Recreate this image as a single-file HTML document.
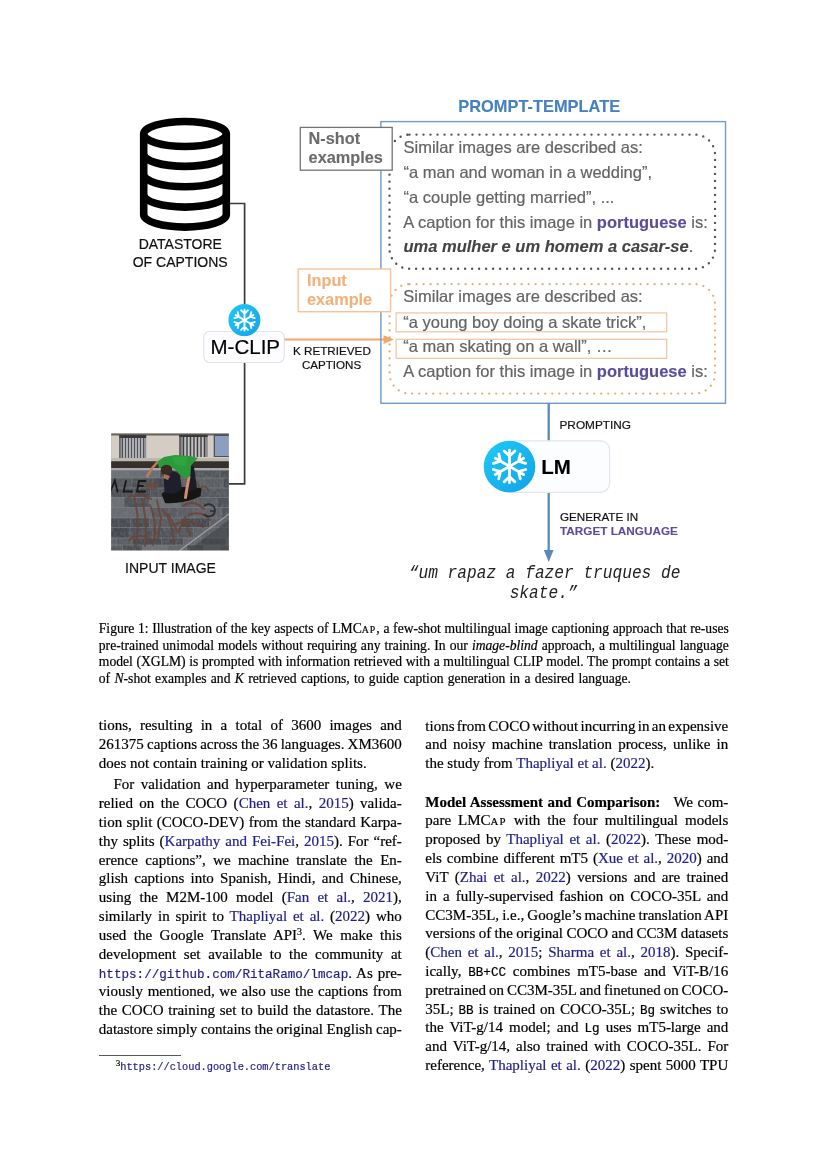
<!DOCTYPE html>
<html><head><meta charset="utf-8">
<style>
html,body{margin:0;padding:0;background:#fff;}
body{width:827px;height:1169px;position:relative;overflow:hidden;will-change:transform;}
.ln,.cap,.fn{-webkit-text-stroke:0.2px currentColor;}
.fig{position:absolute;left:0;top:0;font-family:"Liberation Sans",sans-serif;}
.ln{position:absolute;font-family:"Liberation Serif",serif;font-size:15.0px;line-height:18.9px;height:18.9px;white-space:nowrap;color:#000;}
.cap{position:absolute;font-family:"Liberation Serif",serif;font-size:13.62px;line-height:16.52px;height:16.52px;white-space:nowrap;color:#000;}
a{color:#1f1f8a;text-decoration:none;}
.url{font-family:"Liberation Mono",monospace;font-size:12.6px;color:#1f1f8a;}
.tt{font-family:"Liberation Mono",monospace;font-size:12.6px;}
.sc{font-size:0.72em;letter-spacing:0.105em;text-transform:uppercase;}
sup{font-size:10px;line-height:0;vertical-align:5px;}
.fn{position:absolute;left:116px;top:1059px;font-family:"Liberation Serif",serif;font-size:12.5px;white-space:nowrap;}
.fn .u{font-family:"Liberation Mono",monospace;font-size:10.3px;color:#1f1f8a;}
.rule{position:absolute;left:98.5px;top:1055.2px;width:82.5px;height:1px;background:#555;}
</style></head><body>

<svg class="fig" width="827" height="620" viewBox="0 0 827 620">
<defs>
<linearGradient id="cyan" x1="0" y1="0" x2="1" y2="1">
<stop offset="0" stop-color="#1fcaf5"/><stop offset="1" stop-color="#12a2e8"/>
</linearGradient>
</defs>
<!-- connector lines -->
<path d="M229.5 203.5H244.6V304" stroke="#3a3a3a" stroke-width="1.7" fill="none"/>
<path d="M244.6 362V483.8H229" stroke="#3a3a3a" stroke-width="1.7" fill="none"/>
<!-- database -->
<g stroke="#000" stroke-width="7.6" fill="none">
<ellipse cx="185" cy="134" rx="41.3" ry="12.5"/>
<path d="M143.7 134V214.6A41.3 12.5 0 0 0 226.3 214.6V134"/>
<path d="M143.7 153.9A41.3 12.5 0 0 0 226.3 153.9"/>
<path d="M143.7 174.2A41.3 12.5 0 0 0 226.3 174.2"/>
<path d="M143.7 194.6A41.3 12.5 0 0 0 226.3 194.6"/>
</g>
<text x="180.3" y="249" font-size="14" text-anchor="middle" fill="#111" stroke="#111" stroke-width="0.2">DATASTORE</text>
<text x="180.2" y="267.2" font-size="14" text-anchor="middle" fill="#111" stroke="#111" stroke-width="0.2">OF CAPTIONS</text>
<!-- M-CLIP -->
<rect x="203.8" y="331.5" width="80.5" height="31" rx="6" fill="#fdfdff" stroke="#dfe5ee" stroke-width="1.2"/>
<circle cx="244.4" cy="320.1" r="16" fill="url(#cyan)"/>
<path d="M244.50 320.10L244.50 309.80M241.10 310.31L244.50 313.51L247.90 310.31M244.50 320.10L253.42 314.95M251.27 312.26L250.21 316.80L254.67 318.15M244.50 320.10L253.42 325.25M254.67 322.05L250.21 323.40L251.27 327.94M244.50 320.10L244.50 330.40M247.90 329.89L244.50 326.69L241.10 329.89M244.50 320.10L235.58 325.25M237.73 327.94L238.79 323.40L234.33 322.05M244.50 320.10L235.58 314.95M234.33 318.15L238.79 316.80L237.73 312.26" stroke="#fff" stroke-width="1.9" stroke-linecap="round" stroke-linejoin="round" fill="none"/>
<text x="245.3" y="354.3" font-size="20.5" text-anchor="middle" fill="#000" stroke="#000" stroke-width="0.2">M-CLIP</text>
<!-- orange arrow -->
<path d="M284.5 339.6H386" stroke="#f0a868" stroke-width="2" fill="none"/>
<path d="M383.5 335.3L394 339.6L383.5 343.9Z" fill="#f0a868"/>
<text x="331.9" y="355.2" font-size="11.7" text-anchor="middle" fill="#111" stroke="#111" stroke-width="0.2">K RETRIEVED</text>
<text x="331.6" y="368.8" font-size="11.6" text-anchor="middle" fill="#111" stroke="#111" stroke-width="0.2">CAPTIONS</text>
<!-- prompt template box -->
<text x="539.2" y="112.2" font-size="16.4" font-weight="bold" text-anchor="middle" fill="#4580c0" stroke="#4580c0" stroke-width="0.12">PROMPT-TEMPLATE</text>
<rect x="380.9" y="121.6" width="344.6" height="281.7" fill="none" stroke="#6f9acb" stroke-width="1.4"/>
<rect x="389.5" y="134.6" width="325.5" height="134.20000000000002" rx="20" ry="20" fill="none" stroke="#555" stroke-width="2.4" stroke-linecap="round" stroke-dasharray="0 7.0"/>
<rect x="389.6" y="284.2" width="325.4" height="109.40000000000003" rx="20" ry="20" fill="none" stroke="#e6ad6e" stroke-width="2.3" stroke-linecap="round" stroke-dasharray="0 7.0"/>
<!-- N-shot box -->
<rect x="300.3" y="127.4" width="91.9" height="42.8" fill="#fff" stroke="#747474" stroke-width="1.3"/>
<text x="308.6" y="143.8" font-size="16.3" font-weight="bold" fill="#6b6b6b" stroke="#6b6b6b" stroke-width="0.12">N-shot</text>
<text x="308.6" y="162.7" font-size="16.3" font-weight="bold" fill="#6b6b6b" stroke="#6b6b6b" stroke-width="0.12">examples</text>
<!-- Input example box -->
<rect x="298.2" y="269" width="92.4" height="42.7" fill="#fff" stroke="#f3c49a" stroke-width="1.4"/>
<text x="307" y="285.6" font-size="16.3" font-weight="bold" fill="#f0b27a" stroke="#f0b27a" stroke-width="0.12">Input</text>
<text x="307" y="305.2" font-size="16.3" font-weight="bold" fill="#f0b27a" stroke="#f0b27a" stroke-width="0.12">example</text>
<!-- prompt text -->
<g font-size="16.5" fill="#646464" stroke="#646464" stroke-width="0.2">
<text x="403.5" y="152.8">Similar images are described as:</text>
<text x="403.5" y="178.0">“a man and woman in a wedding”,</text>
<text x="403.5" y="202.8">“a couple getting married”, ...</text>
<text x="403.3" y="227.5">A caption for this image in <tspan font-weight="bold" fill="#5b4c9c" stroke="#5b4c9c" stroke-width="0.12">portuguese</tspan> is:</text>
<text x="403.5" y="252.3" font-weight="bold" font-style="italic" fill="#444444" stroke="#444444" stroke-width="0.12">uma mulher e um homem a casar-se<tspan font-weight="normal" font-style="normal">.</tspan></text>
<text x="403.3" y="302.0">Similar images are described as:</text>
<text x="403.3" y="327.8">“a young boy doing a skate trick”,</text>
<text x="403.3" y="352.3">“a man skating on a wall”, …</text>
<text x="403.3" y="376.9">A caption for this image in <tspan font-weight="bold" fill="#5b4c9c" stroke="#5b4c9c" stroke-width="0.12">portuguese</tspan> is:</text>
</g>
<rect x="396.1" y="312.9" width="270.6" height="18.9" fill="none" stroke="#f2c49c" stroke-width="1.2"/>
<rect x="396.1" y="339.3" width="270.6" height="19.0" fill="none" stroke="#f2c49c" stroke-width="1.2"/>
<!-- blue line and LM -->
<path d="M548.7 403.3V553" stroke="#5a88ba" stroke-width="2.3" fill="none"/>
<path d="M543.8 550L548.7 562L553.6 550Z" fill="#5a88ba"/>
<text x="559.5" y="429" font-size="11.8" fill="#111" stroke="#111" stroke-width="0.2">PROMPTING</text>
<rect x="505" y="440.8" width="104.6" height="51.6" rx="9" fill="#fcfdff" stroke="#e0e6ee" stroke-width="1.2"/>
<circle cx="509.5" cy="466.6" r="25.8" fill="url(#cyan)"/>
<path d="M509.50 466.40L509.50 450.10M504.12 450.91L509.50 455.97L514.88 450.91M509.50 466.40L523.62 458.25M520.22 454.00L518.53 461.18L525.60 463.32M509.50 466.40L523.62 474.55M525.60 469.48L518.53 471.62L520.22 478.80M509.50 466.40L509.50 482.70M514.88 481.88L509.50 476.83L504.12 481.88M509.50 466.40L495.38 474.55M498.78 478.80L500.47 471.62L493.40 469.48M509.50 466.40L495.38 458.25M493.40 463.32L500.47 461.18L498.78 454.00" stroke="#fff" stroke-width="2.8" stroke-linecap="round" stroke-linejoin="round" fill="none"/>
<text x="541.3" y="473.8" font-size="20.5" font-weight="bold" fill="#000" stroke="#000" stroke-width="0.12">LM</text>
<text x="560" y="521.1" font-size="11.65" fill="#111" stroke="#111" stroke-width="0.2">GENERATE IN</text>
<text x="560" y="535.2" font-size="11.75" font-weight="bold" fill="#5b4c9c" stroke="#5b4c9c" stroke-width="0.12">TARGET LANGUAGE</text>
<!-- generated caption -->
<text transform="translate(544.6 578.2) scale(1.011 1.1)" font-family="Liberation Mono" font-style="italic" font-size="16" text-anchor="middle" fill="#222222">“um rapaz a fazer truques de</text>
<text transform="translate(543.6 597.6) scale(1.011 1.1)" font-family="Liberation Mono" font-style="italic" font-size="16" text-anchor="middle" fill="#222222">skate.”</text>
<!-- input image -->
<clipPath id="imgclip"><rect x="111.1" y="433.3" width="117.8" height="117.3"/></clipPath>
<filter id="stone" x="0" y="0" width="1" height="1" color-interpolation-filters="sRGB">
<feTurbulence type="fractalNoise" baseFrequency="0.5 0.25" numOctaves="2" seed="3" result="n"/>
<feColorMatrix in="n" type="matrix" values="0 0 0 0 0.5  0 0 0 0 0.52  0 0 0 0 0.56  0.9 0 0 0 -0.35"/>
</filter>
<filter id="blur05" color-interpolation-filters="sRGB"><feGaussianBlur stdDeviation="0.55"/></filter>
<g clip-path="url(#imgclip)">
<g filter="url(#blur05)">
<rect x="111.1" y="433.3" width="117.8" height="117.3" fill="#62656b"/>
<rect x="101.8" y="470.2" width="27.4" height="7.8" fill="#7a7d82"/>
<path d="M101.8 470.2V478.0" stroke="#8d9094" stroke-width="0.8" opacity="0.6"/>
<rect x="129.1" y="470.2" width="31.0" height="7.8" fill="#777a7f"/>
<path d="M129.1 470.2V478.0" stroke="#8d9094" stroke-width="0.8" opacity="0.6"/>
<rect x="160.1" y="470.2" width="30.6" height="7.8" fill="#4f5257"/>
<path d="M160.1 470.2V478.0" stroke="#8d9094" stroke-width="0.8" opacity="0.6"/>
<rect x="190.7" y="470.2" width="29.1" height="7.8" fill="#5d6065"/>
<path d="M190.7 470.2V478.0" stroke="#8d9094" stroke-width="0.8" opacity="0.6"/>
<rect x="219.8" y="470.2" width="25.7" height="7.8" fill="#585b60"/>
<path d="M219.8 470.2V478.0" stroke="#8d9094" stroke-width="0.8" opacity="0.6"/>
<path d="M111 470.2H229" stroke="#94979b" stroke-width="0.9" opacity="0.6"/>
<rect x="109.4" y="478.0" width="22.4" height="10.0" fill="#5d6065"/>
<path d="M109.4 478.0V488.0" stroke="#8d9094" stroke-width="0.8" opacity="0.6"/>
<rect x="131.8" y="478.0" width="20.9" height="10.0" fill="#54575c"/>
<path d="M131.8 478.0V488.0" stroke="#8d9094" stroke-width="0.8" opacity="0.6"/>
<rect x="152.7" y="478.0" width="24.3" height="10.0" fill="#4e5156"/>
<path d="M152.7 478.0V488.0" stroke="#8d9094" stroke-width="0.8" opacity="0.6"/>
<rect x="177.0" y="478.0" width="27.2" height="10.0" fill="#686b70"/>
<path d="M177.0 478.0V488.0" stroke="#8d9094" stroke-width="0.8" opacity="0.6"/>
<rect x="204.2" y="478.0" width="19.0" height="10.0" fill="#66696e"/>
<path d="M204.2 478.0V488.0" stroke="#8d9094" stroke-width="0.8" opacity="0.6"/>
<rect x="223.2" y="478.0" width="16.9" height="10.0" fill="#52555a"/>
<path d="M223.2 478.0V488.0" stroke="#8d9094" stroke-width="0.8" opacity="0.6"/>
<path d="M111 478.0H229" stroke="#94979b" stroke-width="0.9" opacity="0.6"/>
<rect x="109.0" y="488.0" width="25.1" height="9.5" fill="#56595e"/>
<path d="M109.0 488.0V497.5" stroke="#8d9094" stroke-width="0.8" opacity="0.6"/>
<rect x="134.1" y="488.0" width="16.4" height="9.5" fill="#4e5156"/>
<path d="M134.1 488.0V497.5" stroke="#8d9094" stroke-width="0.8" opacity="0.6"/>
<rect x="150.5" y="488.0" width="17.8" height="9.5" fill="#5b5e63"/>
<path d="M150.5 488.0V497.5" stroke="#8d9094" stroke-width="0.8" opacity="0.6"/>
<rect x="168.3" y="488.0" width="31.3" height="9.5" fill="#585b60"/>
<path d="M168.3 488.0V497.5" stroke="#8d9094" stroke-width="0.8" opacity="0.6"/>
<rect x="199.6" y="488.0" width="29.7" height="9.5" fill="#606368"/>
<path d="M199.6 488.0V497.5" stroke="#8d9094" stroke-width="0.8" opacity="0.6"/>
<path d="M111 488.0H229" stroke="#94979b" stroke-width="0.9" opacity="0.6"/>
<rect x="106.4" y="497.5" width="17.6" height="10.0" fill="#797c81"/>
<path d="M106.4 497.5V507.5" stroke="#8d9094" stroke-width="0.8" opacity="0.6"/>
<rect x="124.0" y="497.5" width="25.3" height="10.0" fill="#595c61"/>
<path d="M124.0 497.5V507.5" stroke="#8d9094" stroke-width="0.8" opacity="0.6"/>
<rect x="149.2" y="497.5" width="30.9" height="10.0" fill="#7a7d82"/>
<path d="M149.2 497.5V507.5" stroke="#8d9094" stroke-width="0.8" opacity="0.6"/>
<rect x="180.2" y="497.5" width="17.5" height="10.0" fill="#66696e"/>
<path d="M180.2 497.5V507.5" stroke="#8d9094" stroke-width="0.8" opacity="0.6"/>
<rect x="197.7" y="497.5" width="19.4" height="10.0" fill="#65686d"/>
<path d="M197.7 497.5V507.5" stroke="#8d9094" stroke-width="0.8" opacity="0.6"/>
<rect x="217.1" y="497.5" width="21.5" height="10.0" fill="#575a5f"/>
<path d="M217.1 497.5V507.5" stroke="#8d9094" stroke-width="0.8" opacity="0.6"/>
<path d="M111 497.5H229" stroke="#94979b" stroke-width="0.9" opacity="0.6"/>
<rect x="107.1" y="507.5" width="20.0" height="10.5" fill="#74777c"/>
<path d="M107.1 507.5V518.0" stroke="#8d9094" stroke-width="0.8" opacity="0.6"/>
<rect x="127.1" y="507.5" width="24.6" height="10.5" fill="#74777c"/>
<path d="M127.1 507.5V518.0" stroke="#8d9094" stroke-width="0.8" opacity="0.6"/>
<rect x="151.7" y="507.5" width="26.2" height="10.5" fill="#63666b"/>
<path d="M151.7 507.5V518.0" stroke="#8d9094" stroke-width="0.8" opacity="0.6"/>
<rect x="177.9" y="507.5" width="15.2" height="10.5" fill="#64676c"/>
<path d="M177.9 507.5V518.0" stroke="#8d9094" stroke-width="0.8" opacity="0.6"/>
<rect x="193.1" y="507.5" width="28.7" height="10.5" fill="#6c6f74"/>
<path d="M193.1 507.5V518.0" stroke="#8d9094" stroke-width="0.8" opacity="0.6"/>
<rect x="221.8" y="507.5" width="26.5" height="10.5" fill="#595c61"/>
<path d="M221.8 507.5V518.0" stroke="#8d9094" stroke-width="0.8" opacity="0.6"/>
<path d="M111 507.5H229" stroke="#94979b" stroke-width="0.9" opacity="0.6"/>
<rect x="103.9" y="518.0" width="26.7" height="9.5" fill="#515459"/>
<path d="M103.9 518.0V527.5" stroke="#8d9094" stroke-width="0.8" opacity="0.6"/>
<rect x="130.6" y="518.0" width="18.6" height="9.5" fill="#4f5257"/>
<path d="M130.6 518.0V527.5" stroke="#8d9094" stroke-width="0.8" opacity="0.6"/>
<rect x="149.2" y="518.0" width="31.1" height="9.5" fill="#64676c"/>
<path d="M149.2 518.0V527.5" stroke="#8d9094" stroke-width="0.8" opacity="0.6"/>
<rect x="180.3" y="518.0" width="29.2" height="9.5" fill="#4f5257"/>
<path d="M180.3 518.0V527.5" stroke="#8d9094" stroke-width="0.8" opacity="0.6"/>
<rect x="209.5" y="518.0" width="23.9" height="9.5" fill="#686b70"/>
<path d="M209.5 518.0V527.5" stroke="#8d9094" stroke-width="0.8" opacity="0.6"/>
<path d="M111 518.0H229" stroke="#94979b" stroke-width="0.9" opacity="0.6"/>
<rect x="105.6" y="527.5" width="24.4" height="10.5" fill="#4e5156"/>
<path d="M105.6 527.5V538.0" stroke="#8d9094" stroke-width="0.8" opacity="0.6"/>
<rect x="130.0" y="527.5" width="22.2" height="10.5" fill="#595c61"/>
<path d="M130.0 527.5V538.0" stroke="#8d9094" stroke-width="0.8" opacity="0.6"/>
<rect x="152.2" y="527.5" width="25.2" height="10.5" fill="#5a5d62"/>
<path d="M152.2 527.5V538.0" stroke="#8d9094" stroke-width="0.8" opacity="0.6"/>
<rect x="177.4" y="527.5" width="16.1" height="10.5" fill="#5d6065"/>
<path d="M177.4 527.5V538.0" stroke="#8d9094" stroke-width="0.8" opacity="0.6"/>
<rect x="193.5" y="527.5" width="30.7" height="10.5" fill="#6b6e73"/>
<path d="M193.5 527.5V538.0" stroke="#8d9094" stroke-width="0.8" opacity="0.6"/>
<rect x="224.3" y="527.5" width="20.2" height="10.5" fill="#64676c"/>
<path d="M224.3 527.5V538.0" stroke="#8d9094" stroke-width="0.8" opacity="0.6"/>
<path d="M111 527.5H229" stroke="#94979b" stroke-width="0.9" opacity="0.6"/>
<rect x="97.7" y="538.0" width="18.5" height="7.0" fill="#6b6e73"/>
<path d="M97.7 538.0V545.0" stroke="#8d9094" stroke-width="0.8" opacity="0.6"/>
<rect x="116.2" y="538.0" width="15.9" height="7.0" fill="#65686d"/>
<path d="M116.2 538.0V545.0" stroke="#8d9094" stroke-width="0.8" opacity="0.6"/>
<rect x="132.2" y="538.0" width="29.5" height="7.0" fill="#505358"/>
<path d="M132.2 538.0V545.0" stroke="#8d9094" stroke-width="0.8" opacity="0.6"/>
<rect x="161.6" y="538.0" width="21.8" height="7.0" fill="#53565b"/>
<path d="M161.6 538.0V545.0" stroke="#8d9094" stroke-width="0.8" opacity="0.6"/>
<rect x="183.4" y="538.0" width="17.8" height="7.0" fill="#6e7176"/>
<path d="M183.4 538.0V545.0" stroke="#8d9094" stroke-width="0.8" opacity="0.6"/>
<rect x="201.2" y="538.0" width="25.0" height="7.0" fill="#575a5f"/>
<path d="M201.2 538.0V545.0" stroke="#8d9094" stroke-width="0.8" opacity="0.6"/>
<rect x="226.2" y="538.0" width="20.1" height="7.0" fill="#7a7d82"/>
<path d="M226.2 538.0V545.0" stroke="#8d9094" stroke-width="0.8" opacity="0.6"/>
<path d="M111 538.0H229" stroke="#94979b" stroke-width="0.9" opacity="0.6"/>
<rect x="102.9" y="545.0" width="19.6" height="6.0" fill="#62656a"/>
<path d="M102.9 545.0V551.0" stroke="#8d9094" stroke-width="0.8" opacity="0.6"/>
<rect x="122.5" y="545.0" width="19.5" height="6.0" fill="#53565b"/>
<path d="M122.5 545.0V551.0" stroke="#8d9094" stroke-width="0.8" opacity="0.6"/>
<rect x="142.1" y="545.0" width="25.3" height="6.0" fill="#7a7d82"/>
<path d="M142.1 545.0V551.0" stroke="#8d9094" stroke-width="0.8" opacity="0.6"/>
<rect x="167.3" y="545.0" width="19.6" height="6.0" fill="#6c6f74"/>
<path d="M167.3 545.0V551.0" stroke="#8d9094" stroke-width="0.8" opacity="0.6"/>
<rect x="186.9" y="545.0" width="16.9" height="6.0" fill="#515459"/>
<path d="M186.9 545.0V551.0" stroke="#8d9094" stroke-width="0.8" opacity="0.6"/>
<rect x="203.8" y="545.0" width="15.5" height="6.0" fill="#74777c"/>
<path d="M203.8 545.0V551.0" stroke="#8d9094" stroke-width="0.8" opacity="0.6"/>
<rect x="219.3" y="545.0" width="23.6" height="6.0" fill="#676a6f"/>
<path d="M219.3 545.0V551.0" stroke="#8d9094" stroke-width="0.8" opacity="0.6"/>
<path d="M111 545.0H229" stroke="#94979b" stroke-width="0.9" opacity="0.6"/>
<rect x="111.1" y="469" width="117.8" height="82" fill="#000" opacity="0.1"/>
<rect x="111.1" y="469" width="117.8" height="82" fill="#000" filter="url(#stone)" opacity="1"/>
<path d="M229 514L179 551" stroke="#a6a6a8" stroke-width="1.5" opacity="0.85"/>
<path d="M229 520L187 551H229Z" fill="#3c3f44" opacity="0.55"/>
<!-- building -->
<rect x="111.1" y="433.3" width="117.8" height="25" fill="#d3cdc3"/>
<rect x="111.1" y="433.3" width="117.8" height="2.2" fill="#6a625a"/>
<rect x="119.2" y="435" width="27" height="23.5" fill="#8e9096"/>
<rect x="119.2" y="435" width="27" height="3" fill="#3a3838"/>
<path d="M119.8 435V458.5M122.5 438V458M125.5 438V458M128.5 438V458M131.5 438V458M134.5 438V458M137.5 438V458M140.5 438V458M143.5 438V458" stroke="#4a4a50" stroke-width="0.9"/>
<path d="M124 438V458M127 438V458M130 438V458M133 438V458M136 438V458M139 438V458M142 438V458" stroke="#c4c6cc" stroke-width="1.2"/>
<rect x="179.2" y="434.5" width="28.5" height="22.5" fill="#8a8a8c"/>
<rect x="179.2" y="434.5" width="28.5" height="2.5" fill="#3a3838"/>
<path d="M180 435V457M183.5 437V457M187 437V457M190.5 437V457M194 437V457M197.5 437V457M201 437V457M204.5 437V457" stroke="#3e3e40" stroke-width="1"/>
<path d="M185.2 437V457M188.7 437V457M192.2 437V457M195.7 437V457M199.2 437V457M202.7 437V457" stroke="#cfcdcd" stroke-width="1.2"/>
<rect x="213.7" y="434.5" width="15.3" height="22.5" fill="#4a5060"/>
<rect x="215" y="436" width="14" height="20" fill="#8c9fbe"/>
<rect x="111.1" y="458" width="117.8" height="3.4" fill="#bfb8af"/>
<rect x="111.1" y="461.4" width="117.8" height="6.6" fill="#36302b"/>
<rect x="111.1" y="468" width="117.8" height="2.2" fill="#a7a9ae"/>
<!-- graffiti -->
<g fill="none" stroke="#191919" stroke-width="1.8" stroke-linecap="round">
<path d="M110.5 491.5L114.8 480.5L117.5 491.5"/>
<path d="M126 481L123.5 491.5H132"/>
<path d="M139 481L137 491.5H145M138 486H143M139 481H145.5"/>
</g>
<path d="M146 482.5C150 481 155 482 158 484L157 490C153 491 148 490 146 489Z" fill="#6a4a40" opacity="0.7"/>
<g fill="none" stroke="#6b4236" stroke-width="2" opacity="0.78" stroke-linecap="round">
<path d="M127 498C134 494 143 495 151 499M134 497C138 510 139 525 136 545M142 499C145 512 148 528 145 546M129 540C136 534 144 535 153 540"/>
<path d="M150 505C154 515 157 529 153 545M157 500L161 519L158 538M163 510C170 519 174 530 173 544M168 514L178 532L185 518L190 536"/>
<path d="M183 506C190 500 197 503 204 509M189 515C197 511 205 514 210 520M176 524C185 520 195 522 203 527"/>
<path d="M196 482C200 486 201 492 199 497M200 488C204 485 207 487 208 490"/>
</g>
<path d="M204 506C209 502 215 505 215 511C214 517 207 518 204 514M210 511H215" fill="none" stroke="#2f2c2c" stroke-width="1.7"/>
<!-- skater -->
<path d="M161.5 494C169 487 187 485.5 201.5 488.5L200.5 496C192 501 175 504 165 503Z" fill="#151515"/>
<path d="M163.5 473C170 470 178 471 180 476L182 489C177 494 169 495 164.5 492Z" fill="#1e1e2c"/>
<path d="M187.5 465L194 466.5L197 489L189 492Z" fill="#1c1c26"/>
<path d="M157.5 462L151.5 469L147 476.5" stroke="#c47a5a" stroke-width="2.5" stroke-linecap="round" fill="none"/>
<path d="M189 477L187 488L185.5 497.5" stroke="#d48c6a" stroke-width="3" stroke-linecap="round" fill="none"/>
<path d="M157.5 461.5L164 457L175 455L190 456L198 458L195 461L191 465.5L190.5 475L187.5 478.5L182 477L176 470L168 466L159 468Z" fill="#2a9a3a"/>
<path d="M172 457L188 456.5L185 466L176 465Z" fill="#35ac46" opacity="0.6"/>
<ellipse cx="166.5" cy="470" rx="5.8" ry="5.2" fill="#3a2a22"/>
<path d="M164 474L170 476L168 480L163 478Z" fill="#a87060"/>
</g>
</g>
<text x="170.5" y="572.9" font-size="14" text-anchor="middle" fill="#111" stroke="#111" stroke-width="0.2">INPUT IMAGE</text>
</svg>

<div class="cap" style="left:98.8px;top:621.05px;word-spacing:0.266px">Figure 1: Illustration of the key aspects of LMC<span class="sc">ap</span>, a few-shot multilingual image captioning approach that re-uses</div>
<div class="cap" style="left:98.8px;top:637.57px;word-spacing:0.635px">pre-trained unimodal models without requiring any training. In our <i>image-blind</i> approach, a multilingual language</div>
<div class="cap" style="left:98.8px;top:654.09px;word-spacing:0.278px">model (XGLM) is prompted with information retrieved with a multilingual CLIP model. The prompt contains a set</div>
<div class="cap" style="left:98.8px;top:670.61px;word-spacing:0.922px">of <i>N</i>-shot examples and <i>K</i> retrieved captions, to guide caption generation in a desired language.</div>
<div class="ln" style="left:98.8px;top:716.40px;word-spacing:4.494px">tions, resulting in a total of 3600 images and</div>
<div class="ln" style="left:98.8px;top:735.22px;word-spacing:-0.534px">261375 captions across the 36 languages. XM3600</div>
<div class="ln" style="left:98.8px;top:754.04px;word-spacing:0.000px">does not contain training or validation splits.</div>
<div class="ln" style="left:113.39999999999999px;top:775.30px;word-spacing:2.696px">For validation and hyperparameter tuning, we</div>
<div class="ln" style="left:98.8px;top:794.12px;word-spacing:2.670px">relied on the COCO (<a>Chen et al.</a>, <a>2015</a>) valida-</div>
<div class="ln" style="left:98.8px;top:812.94px;word-spacing:0.648px">tion split (COCO-DEV) from the standard Karpa-</div>
<div class="ln" style="left:98.8px;top:831.76px;word-spacing:1.206px">thy splits (<a>Karpathy and Fei-Fei</a>, <a>2015</a>). For “ref-</div>
<div class="ln" style="left:98.8px;top:850.58px;word-spacing:3.646px">erence captions”, we machine translate the En-</div>
<div class="ln" style="left:98.8px;top:869.40px;word-spacing:2.516px">glish captions into Spanish, Hindi, and Chinese,</div>
<div class="ln" style="left:98.8px;top:888.22px;word-spacing:4.478px">using the M2M-100 model (<a>Fan et al.</a>, <a>2021</a>),</div>
<div class="ln" style="left:98.8px;top:907.04px;word-spacing:2.131px">similarly in spirit to <a>Thapliyal et al.</a> (<a>2022</a>) who</div>
<div class="ln" style="left:98.8px;top:925.86px;word-spacing:3.739px">used the Google Translate API<sup>3</sup>. We make this</div>
<div class="ln" style="left:98.8px;top:944.68px;word-spacing:3.846px">development set available to the community at</div>
<div class="ln" style="left:98.8px;top:963.50px;word-spacing:1.172px"><span class="url">https://github.com/RitaRamo/lmcap</span>. As pre-</div>
<div class="ln" style="left:98.8px;top:982.32px;word-spacing:0.913px">viously mentioned, we also use the captions from</div>
<div class="ln" style="left:98.8px;top:1001.14px;word-spacing:0.988px">the COCO training set to build the datastore. The</div>
<div class="ln" style="left:98.8px;top:1019.96px;word-spacing:-0.182px">datastore simply contains the original English cap-</div>
<div class="ln" style="left:425.3px;top:716.50px;word-spacing:-1.413px">tions from COCO without incurring in an expensive</div>
<div class="ln" style="left:425.3px;top:735.32px;word-spacing:2.385px">and noisy machine translation process, unlike in</div>
<div class="ln" style="left:425.3px;top:754.14px;word-spacing:0.000px">the study from <a>Thapliyal et al.</a> (<a>2022</a>).</div>
<div class="ln" style="left:425.3px;top:792.65px;word-spacing:0.699px"><b>Model Assessment and Comparison:</b>&nbsp;&nbsp; We com-</div>
<div class="ln" style="left:425.3px;top:811.47px;word-spacing:3.243px">pare LMC<span class="sc">ap</span> with the four multilingual models</div>
<div class="ln" style="left:425.3px;top:830.29px;word-spacing:1.882px">proposed by <a>Thapliyal et al.</a> (<a>2022</a>). These mod-</div>
<div class="ln" style="left:425.3px;top:849.11px;word-spacing:1.146px">els combine different mT5 (<a>Xue et al.</a>, <a>2020</a>) and</div>
<div class="ln" style="left:425.3px;top:867.93px;word-spacing:2.717px">ViT (<a>Zhai et al.</a>, <a>2022</a>) versions and are trained</div>
<div class="ln" style="left:425.3px;top:886.75px;word-spacing:2.266px">in a fully-supervised fashion on COCO-35L and</div>
<div class="ln" style="left:425.3px;top:905.57px;word-spacing:-0.644px">CC3M-35L, i.e., Google’s machine translation API</div>
<div class="ln" style="left:425.3px;top:924.39px;word-spacing:-0.342px">versions of the original COCO and CC3M datasets</div>
<div class="ln" style="left:425.3px;top:943.21px;word-spacing:1.992px">(<a>Chen et al.</a>, <a>2015</a>; <a>Sharma et al.</a>, <a>2018</a>). Specif-</div>
<div class="ln" style="left:425.3px;top:962.03px;word-spacing:3.088px">ically, <span class="tt">BB+CC</span> combines mT5-base and ViT-B/16</div>
<div class="ln" style="left:425.3px;top:980.85px;word-spacing:-0.789px">pretrained on CC3M-35L and finetuned on COCO-</div>
<div class="ln" style="left:425.3px;top:999.67px;word-spacing:1.178px">35L; <span class="tt">BB</span> is trained on COCO-35L; <span class="tt">Bg</span> switches to</div>
<div class="ln" style="left:425.3px;top:1018.49px;word-spacing:2.310px">the ViT-g/14 model; and <span class="tt">Lg</span> uses mT5-large and</div>
<div class="ln" style="left:425.3px;top:1037.31px;word-spacing:2.318px">and ViT-g/14, also trained with COCO-35L. For</div>
<div class="ln" style="left:425.3px;top:1056.13px;word-spacing:0.694px">reference, <a>Thapliyal et al.</a> (<a>2022</a>) spent 5000 TPU</div>
<div class="rule"></div>
<div class="fn"><sup style="font-size:8.5px;vertical-align:4px">3</sup><span class="u">https://cloud.google.com/translate</span></div>
</body></html>
